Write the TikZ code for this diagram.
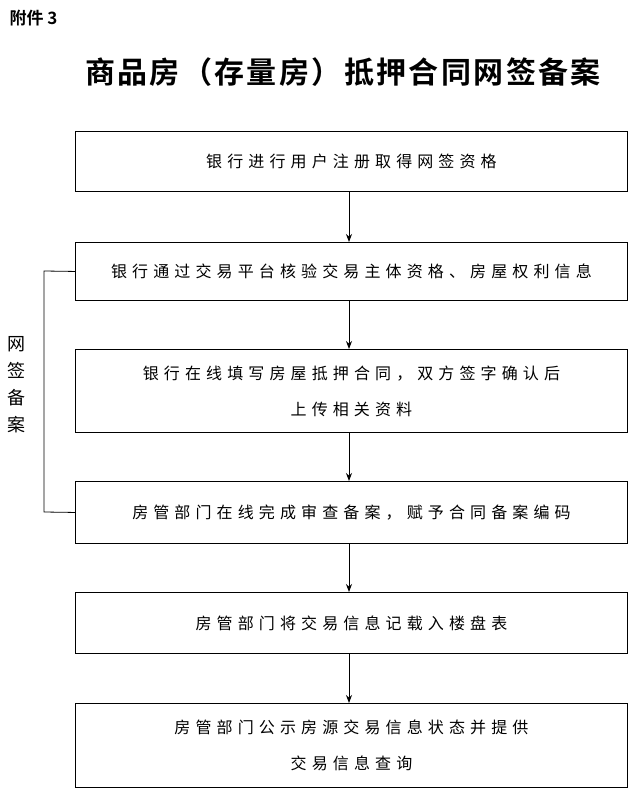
\documentclass[tikz,border=0pt]{standalone}
\usepackage{fontspec}
\setmainfont{Noto Sans CJK SC}[LetterSpace=32]
\newfontfamily\titlefont{Noto Sans CJK SC Bold}[LetterSpace=8]
\newfontfamily\headfont{Noto Sans CJK SC Bold}
\usetikzlibrary{arrows.meta}
\begin{document}
\begin{tikzpicture}[x=1pt,y=-1pt,
  flowbox/.style={draw,line width=0.9pt,minimum width=552pt,anchor=north west,align=center,font=\fontsize{16}{36}\selectfont,inner sep=0pt},
  flowarrow/.style={-{Stealth[length=8pt,width=6pt]},line width=0.8pt}]
\useasboundingbox (0,0) rectangle (641,794);
\node[anchor=west,font=\headfont\fontsize{17}{20}\selectfont] (att) at (6,18) {附件 3};
\node[font=\titlefont\fontsize{30}{34}\selectfont] (title) at (343,72) {商品房（存量房）抵押合同网签备案};
\node[flowbox,minimum height=60pt] (b1) at (75,131) {银行进行用户注册取得网签资格};
\node[flowbox,minimum height=58pt] (b2) at (75,242) {银行通过交易平台核验交易主体资格、房屋权利信息};
\node[flowbox,minimum height=83pt] (b3) at (75,349) {银行在线填写房屋抵押合同，双方签字确认后\\上传相关资料};
\node[flowbox,minimum height=62pt] (b4) at (75,481) {房管部门在线完成审查备案，赋予合同备案编码};
\node[flowbox,minimum height=61pt] (b5) at (75,592) {房管部门将交易信息记载入楼盘表};
\node[flowbox,minimum height=84pt] (b6) at (75,703) {房管部门公示房源交易信息状态并提供\\交易信息查询};
\foreach \a/\b in {b1/b2,b2/b3,b3/b4,b4/b5,b5/b6}
  \draw[flowarrow] (\a.south -| 349,0) -- (\b.north -| 349,0);
\coordinate (c1) at (44,271);
\coordinate (c2) at (44,512);
\draw[line width=0.8pt] (b2.west) -- (c1) -- (c2) -- (b4.west);
\node[align=center,font=\fontsize{18}{27}\selectfont] (lab) at (17,385) {网\\签\\备\\案};
\end{tikzpicture}
\end{document}
